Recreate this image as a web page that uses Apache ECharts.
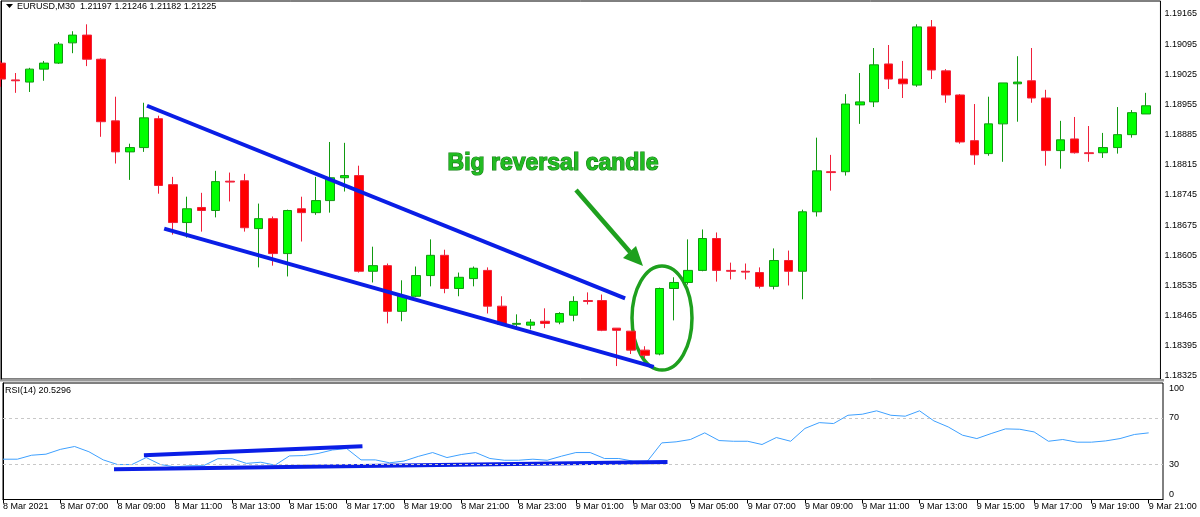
<!DOCTYPE html>
<html>
<head>
<meta charset="utf-8">
<script src="https://cdn.jsdelivr.net/npm/echarts@6/dist/echarts.min.js"></script>
<style>
  html, body { margin: 0; padding: 0; background: #fff; }
  #chart { width: 1200px; height: 517px; }
</style>
</head>
<body>
<div id="chart"></div>
<script>
// EURUSD M30 蜡烛图 + RSI(14)

// K线 [open, close, low, high]
const candles = [
  [1.19051, 1.19014, 1.18996, 1.19056], [1.19012, 1.19010, 1.18982, 1.19028], [1.19007, 1.19037, 1.18984, 1.19040],
  [1.19037, 1.19051, 1.19010, 1.19056], [1.19051, 1.19095, 1.19049, 1.19100], [1.19098, 1.19116, 1.19074, 1.19125],
  [1.19116, 1.19060, 1.19044, 1.19141], [1.19060, 1.18915, 1.18880, 1.19062], [1.18917, 1.18845, 1.18818, 1.18973],
  [1.18845, 1.18855, 1.18780, 1.18864], [1.18855, 1.18924, 1.18845, 1.18959], [1.18922, 1.18767, 1.18748, 1.18929],
  [1.18769, 1.18681, 1.18653, 1.18787], [1.18681, 1.18713, 1.18646, 1.18741], [1.18716, 1.18709, 1.18660, 1.18750],
  [1.18709, 1.18776, 1.18693, 1.18801], [1.18777, 1.18775, 1.18730, 1.18797], [1.18778, 1.18669, 1.18660, 1.18794],
  [1.18667, 1.18690, 1.18577, 1.18725], [1.18690, 1.18609, 1.18581, 1.18695], [1.18609, 1.18709, 1.18556, 1.18711],
  [1.18713, 1.18704, 1.18637, 1.18741], [1.18704, 1.18732, 1.18699, 1.18787], [1.18732, 1.18785, 1.18704, 1.18868],
  [1.18785, 1.18790, 1.18753, 1.18866], [1.18790, 1.18568, 1.18565, 1.18813], [1.18568, 1.18581, 1.18542, 1.18625],
  [1.18581, 1.18475, 1.18447, 1.18586], [1.18475, 1.18510, 1.18452, 1.18547], [1.18510, 1.18558, 1.18508, 1.18579],
  [1.18558, 1.18605, 1.18533, 1.18642], [1.18605, 1.18528, 1.18517, 1.18618], [1.18528, 1.18554, 1.18510, 1.18565],
  [1.18551, 1.18575, 1.18533, 1.18579], [1.18570, 1.18487, 1.18470, 1.18577], [1.18487, 1.18445, 1.18443, 1.18510],
  [1.18445, 1.18447, 1.18433, 1.18468], [1.18443, 1.18450, 1.18433, 1.18457], [1.18452, 1.18447, 1.18436, 1.18482],
  [1.18450, 1.18470, 1.18445, 1.18473], [1.18466, 1.18498, 1.18452, 1.18510], [1.18500, 1.18498, 1.18491, 1.18519],
  [1.18500, 1.18431, 1.18429, 1.18514], [1.18436, 1.18431, 1.18348, 1.18436], [1.18429, 1.18385, 1.18376, 1.18429],
  [1.18385, 1.18373, 1.18366, 1.18394], [1.18376, 1.18528, 1.18373, 1.18530], [1.18528, 1.18542, 1.18454, 1.18554],
  [1.18542, 1.18570, 1.18537, 1.18642], [1.18570, 1.18644, 1.18568, 1.18665], [1.18644, 1.18570, 1.18544, 1.18658],
  [1.18570, 1.18568, 1.18549, 1.18588], [1.18568, 1.18566, 1.18549, 1.18586], [1.18565, 1.18533, 1.18528, 1.18577],
  [1.18533, 1.18593, 1.18526, 1.18621], [1.18593, 1.18568, 1.18535, 1.18616], [1.18568, 1.18706, 1.18503, 1.18711],
  [1.18706, 1.18801, 1.18695, 1.18878], [1.18799, 1.18797, 1.18755, 1.18838], [1.18799, 1.18956, 1.18790, 1.18979],
  [1.18954, 1.18961, 1.18910, 1.19028], [1.18961, 1.19047, 1.18949, 1.19086], [1.19049, 1.19014, 1.18991, 1.19093],
  [1.19014, 1.19003, 1.18970, 1.19056], [1.19000, 1.19135, 1.18996, 1.19141], [1.19135, 1.19035, 1.19014, 1.19151],
  [1.19033, 1.18977, 1.18959, 1.19037], [1.18977, 1.18868, 1.18864, 1.18979], [1.18871, 1.18838, 1.18815, 1.18956],
  [1.18841, 1.18910, 1.18836, 1.18973], [1.18910, 1.19005, 1.18822, 1.19005], [1.19003, 1.19007, 1.18915, 1.19067],
  [1.19010, 1.18970, 1.18959, 1.19086], [1.18970, 1.18848, 1.18813, 1.18989], [1.18848, 1.18873, 1.18806, 1.18917],
  [1.18875, 1.18843, 1.18841, 1.18926], [1.18843, 1.18841, 1.18822, 1.18905], [1.18843, 1.18855, 1.18831, 1.18889],
  [1.18855, 1.18885, 1.18841, 1.18949], [1.18885, 1.18936, 1.18878, 1.18942], [1.18933, 1.18952, 1.18933, 1.18982]
]

// RSI(14)
const rsiValues = [
  34.6, 34.6, 38, 38.9, 43, 45.5, 41, 34, 30, 30, 36, 30, 28, 29, 29, 35, 35, 31, 32, 29.5,
  37.4, 37.7, 39.5, 42.5, 43.7, 34, 34, 31.5, 33, 37, 40.3, 36, 38.6, 40.3, 35.2, 33.7, 33.7, 34.6, 33.7, 37.2,
  40.3, 40.3, 35.2, 35.2, 32.9, 32.9, 48.6, 49.5, 51.5, 57.2, 50.6, 50, 50, 47.2, 53.2, 50,
  61, 66, 65.2, 72.3, 73.2, 76.1, 72.3, 71.5, 76.1, 67.5, 62.3, 55.2, 52.3, 56.6, 60.6, 60.3, 58,
  50, 51.5, 49.2, 49.2, 50.3, 52.3, 55.8, 57.2
]

// 刻度
const priceTicks = [1.18325, 1.18395, 1.18465, 1.18535, 1.18605, 1.18675, 1.18745, 1.18815, 1.18885, 1.18955, 1.19025, 1.19095, 1.19165]
const rsiTicks = [0, 30, 70, 100]
const rsiLevels = [30, 70]

// 趋势线 [x(candle index), y]
const channelUpper = [[10.2, 1.18952], [43.6, 1.18505]]
const channelLower = [[11.4, 1.18667], [45.6, 1.18346]]
const rsiUpper = [[9.84, 38], [25.1, 45.7]]
const rsiLower = [[7.75, 26], [46.4, 32.2]]

// 时间标签 (8 Mar 05:00 起, 30分钟)
const times = []
for (let i = 0; i < candles.length; i++) {
  const m = 5 * 60 + i * 30
  const day = 8 + Math.floor(m / 1440)
  const hh = Math.floor((m % 1440) / 60)
  const mm = m % 60
  times.push(i === 0 ? '8 Mar 2021' : day + ' Mar ' + String(hh).padStart(2, '0') + ':' + String(mm).padStart(2, '0'))
}
times.push('')

const font = 'Liberation Sans'
const blue = '#0a1ee6'
const showLabel = (i) => i % 4 === 0 && i <= 80

const chart = echarts.init(document.getElementById('chart'))
chart.setOption({
  animation: false,
  textStyle: { fontFamily: font },
  grid: [
    { left: 1, right: 37, top: 1, height: 378, show: true, borderColor: '#000', borderWidth: 1 },
    { left: 1, right: 37, top: 383, height: 116.5, show: true, borderColor: '#000', borderWidth: 1 }
  ],
  xAxis: [
    { type: 'category', gridIndex: 0, data: times, boundaryGap: false, axisLine: { show: false }, axisTick: { show: false }, axisLabel: { show: false }, splitLine: { show: false } },
    {
      type: 'category', gridIndex: 1, data: times, boundaryGap: false,
      axisLine: { lineStyle: { color: '#000' } },
      axisTick: { interval: showLabel, length: 4, lineStyle: { color: '#000' } },
      axisLabel: { interval: showLabel, align: 'left', margin: 3, fontSize: 9, color: '#000', fontFamily: font },
      splitLine: { show: false }
    },
    { type: 'value', gridIndex: 0, min: 0, max: 81, show: false },
    { type: 'value', gridIndex: 1, min: 0, max: 81, show: false }
  ],
  yAxis: [
    {
      type: 'value', gridIndex: 0, position: 'right', min: 1.18318, max: 1.191951,
      axisLine: { show: true, lineStyle: { color: '#000' } },
      axisTick: { show: false },
      minorTick: { show: false },
      axisLabel: { customValues: priceTicks, fontSize: 9, margin: 4, color: '#000', formatter: v => v.toFixed(5) },
      splitLine: { show: false }
    },
    {
      type: 'value', gridIndex: 1, position: 'right', min: 0, max: 100,
      axisLine: { show: true, lineStyle: { color: '#000' } },
      axisTick: { show: false },
      axisLabel: {
        customValues: rsiTicks, fontSize: 9, margin: 6, color: '#000',
        formatter: v => v === 100 ? '{t|100}' : v === 0 ? '{b|0}' : String(v),
        rich: {
          t: { fontSize: 9, padding: [12, 0, 0, 0] },
          b: { fontSize: 9, padding: [0, 0, 10, 0] }
        }
      },
      splitLine: { show: false }
    }
  ],
  series: [
    {
      type: 'candlestick', xAxisIndex: 0, yAxisIndex: 0, data: candles, barWidth: 9,
      itemStyle: { color: '#00ff00', color0: '#ff0000', borderColor: '#119911', borderColor0: '#f0203a', borderWidth: 1 }
    },
    {
      type: 'line', xAxisIndex: 1, yAxisIndex: 1, data: rsiValues, showSymbol: false,
      lineStyle: { color: '#3ea0ff', width: 1 },
      markLine: {
        silent: true, symbol: 'none', label: { show: false },
        lineStyle: { color: '#c8c8c8', type: [3, 3], width: 1 },
        data: rsiLevels.map(v => ({ yAxis: v }))
      }
    },
    ...[channelUpper, channelLower].map(d => ({
      type: 'line', xAxisIndex: 2, yAxisIndex: 0, data: d, showSymbol: false,
      lineStyle: { color: blue, width: 4 }
    })),
    ...[rsiUpper, rsiLower].map(d => ({
      type: 'line', xAxisIndex: 3, yAxisIndex: 1, data: d, showSymbol: false,
      lineStyle: { color: blue, width: 4 }
    }))
  ],
  graphic: [
    { type: 'rect', shape: { x: 0, y: 379, width: 1164, height: 2.5 }, style: { fill: '#9a9a9a' } },
    { type: 'polygon', shape: { points: [[6, 4], [13, 4], [9.5, 8]] }, style: { fill: '#000' } },
    { type: 'text', left: 17, top: 2, style: { text: 'EURUSD,M30  1.21197 1.21246 1.21182 1.21225', font: '9px "Liberation Sans"', fill: '#000' } },
    { type: 'text', left: 5, top: 386, style: { text: 'RSI(14) 20.5296', font: '9px "Liberation Sans"', fill: '#000' } },
    { type: 'ellipse', shape: { cx: 662, cy: 318, rx: 30, ry: 52 }, style: { fill: 'none', stroke: '#1ea01e', lineWidth: 3.5 } },
    { type: 'line', shape: { x1: 576, y1: 190, x2: 630, y2: 252 }, style: { stroke: '#1ea01e', lineWidth: 4.5 } },
    { type: 'polygon', shape: { points: [[643, 266], [623, 258], [636, 246]] }, style: { fill: '#1ea01e' } },
    {
      type: 'text', left: 447, top: 152,
      style: { text: 'Big reversal candle', font: 'bold 23px "Liberation Sans"', fill: '#22bb22', stroke: '#137f13', lineWidth: 1.2, shadowColor: 'rgba(0,80,0,0.3)', shadowBlur: 3 }
    }
  ]
})
</script>
</body>
</html>
